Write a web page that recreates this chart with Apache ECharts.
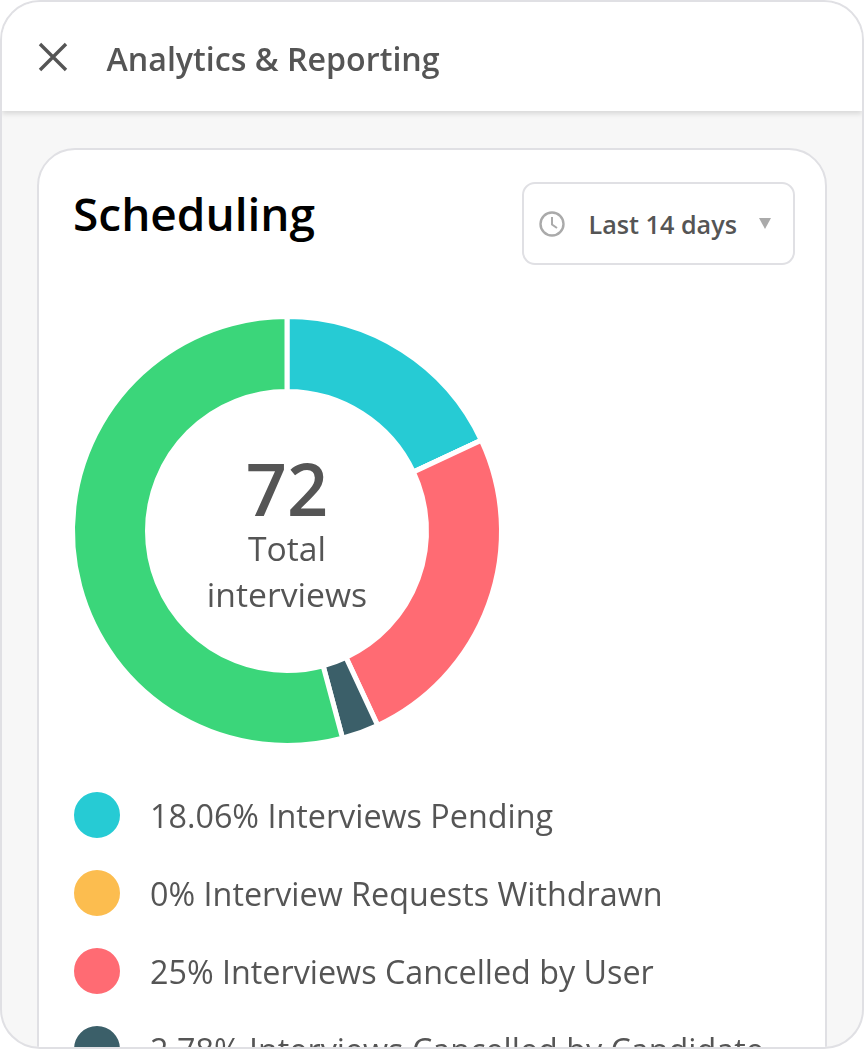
<!DOCTYPE html>
<html><head><meta charset="utf-8">
<script src="https://cdn.jsdelivr.net/npm/echarts@6/dist/echarts.min.js"></script>
<style>
html,body{margin:0;padding:0;width:864px;height:1051px;background:#fff;overflow:hidden;font-family:"Open Sans",sans-serif;}
#frame{position:absolute;left:0;top:0;width:864px;height:1049px;box-sizing:border-box;border:2.5px solid #e0e0e4;border-radius:40px;background:#f7f7f7;overflow:hidden;}
#head{position:absolute;left:0;top:0;right:0;height:108.5px;background:#fff;box-shadow:0 3px 5px rgba(0,0,0,.12);z-index:3;}
#title{position:absolute;left:104.5px;top:35px;font-size:32.2px;font-weight:600;color:#555;line-height:44px;white-space:nowrap;}
#close{position:absolute;left:34px;top:39px;}
#card{position:absolute;left:35px;top:145.5px;width:790px;height:1000px;box-sizing:border-box;border:2.5px solid #e0e0e4;border-radius:38px;background:#fff;}
#sched{position:absolute;left:71px;top:178px;font-size:46px;font-weight:600;color:#000;line-height:66px;white-space:nowrap;}
#drop{position:absolute;left:520px;top:180px;width:273px;height:83px;box-sizing:border-box;border:2px solid #e0e0e4;border-radius:13px;background:#fff;}
#droptxt{position:absolute;left:586.5px;top:204px;font-size:25.2px;font-weight:600;color:#555;line-height:36px;white-space:nowrap;}
#clock{position:absolute;left:536px;top:208px;}
#arrow{position:absolute;left:757px;top:215.5px;width:0;height:0;border-left:6.5px solid transparent;border-right:6.5px solid transparent;border-top:11.5px solid #aaa;}
#chart{position:absolute;left:-2.5px;top:-2.5px;width:864px;height:1051px;}
</style></head><body>
<div id="frame">
 <div id="head">
  <svg id="close" width="32" height="32" viewBox="0 0 32 32"><path d="M4 3L30 29M30 3L4 29" stroke="#555" stroke-width="3.4" fill="none"/></svg>
  <div id="title">Analytics &amp; Reporting</div>
 </div>
 <div id="card"></div>
 <div id="sched">Scheduling</div>
 <div id="drop"></div>
 <svg id="clock" width="28" height="28" viewBox="0 0 28 28"><circle cx="14" cy="14" r="11.5" stroke="#aaa" stroke-width="2.4" fill="none"/><path d="M14 7V14.5L19 18" stroke="#aaa" stroke-width="2" fill="none"/></svg>
 <div id="droptxt">Last 14 days</div>
 <div id="arrow"></div>
 <div id="chart"></div>
</div>
<script>
const categories = ["Interviews Pending","Interview Requests Withdrawn","Interviews Cancelled by User","Interviews Cancelled by Candidate","Interviews Scheduled"];
const interviewCounts = [13,0,18,2,39];
const percentLabels = ["18.06%","0%","25%","2.78%","54.17%"];
const sliceColors = ["#26CBD4","#FCBD4F","#FF6B73","#3B5F69","#3BD67A"];
const centerCaption = ["Total","interviews"];
const total = interviewCounts.reduce((a,b)=>a+b,0);
const chart = echarts.init(document.getElementById('chart'),null,{renderer:'canvas'});
chart.setOption({
  animation:false,
  backgroundColor:'transparent',
  color:sliceColors,
  legend:{
    orient:'vertical',left:72,top:790,height:1000,padding:0,
    itemWidth:48,itemHeight:48,itemGap:28,icon:'circle',selectedMode:false,
    formatter:n=>'{t|'+percentLabels[categories.indexOf(n)]+' '+n+'}',
    textStyle:{rich:{t:{fontFamily:'Open Sans',fontSize:32.3,color:'#555',lineHeight:50,padding:[8,0,0,24]}}},
    data:categories
  },
  title:[
    {text:String(total),left:287,top:459,textAlign:'center',padding:0,textStyle:{fontFamily:'Open Sans',fontSize:72,fontWeight:600,color:'#555'}},
    {text:centerCaption[0],left:287,top:534,textAlign:'center',padding:0,textStyle:{fontFamily:'Open Sans',fontSize:33.7,fontWeight:400,color:'#555'}},
    {text:centerCaption[1],left:287,top:580,textAlign:'center',padding:0,textStyle:{fontFamily:'Open Sans',fontSize:33.7,fontWeight:400,color:'#555'}}
  ],
  series:[{
    type:'pie',center:[287,531],radius:[139.5,214.5],startAngle:90,clockwise:true,
    label:{show:false},labelLine:{show:false},silent:true,
    itemStyle:{borderColor:'#fff',borderWidth:5},
    data:categories.map((n,i)=>({name:n,value:interviewCounts[i]}))
  }]
});
</script>
</body></html>
